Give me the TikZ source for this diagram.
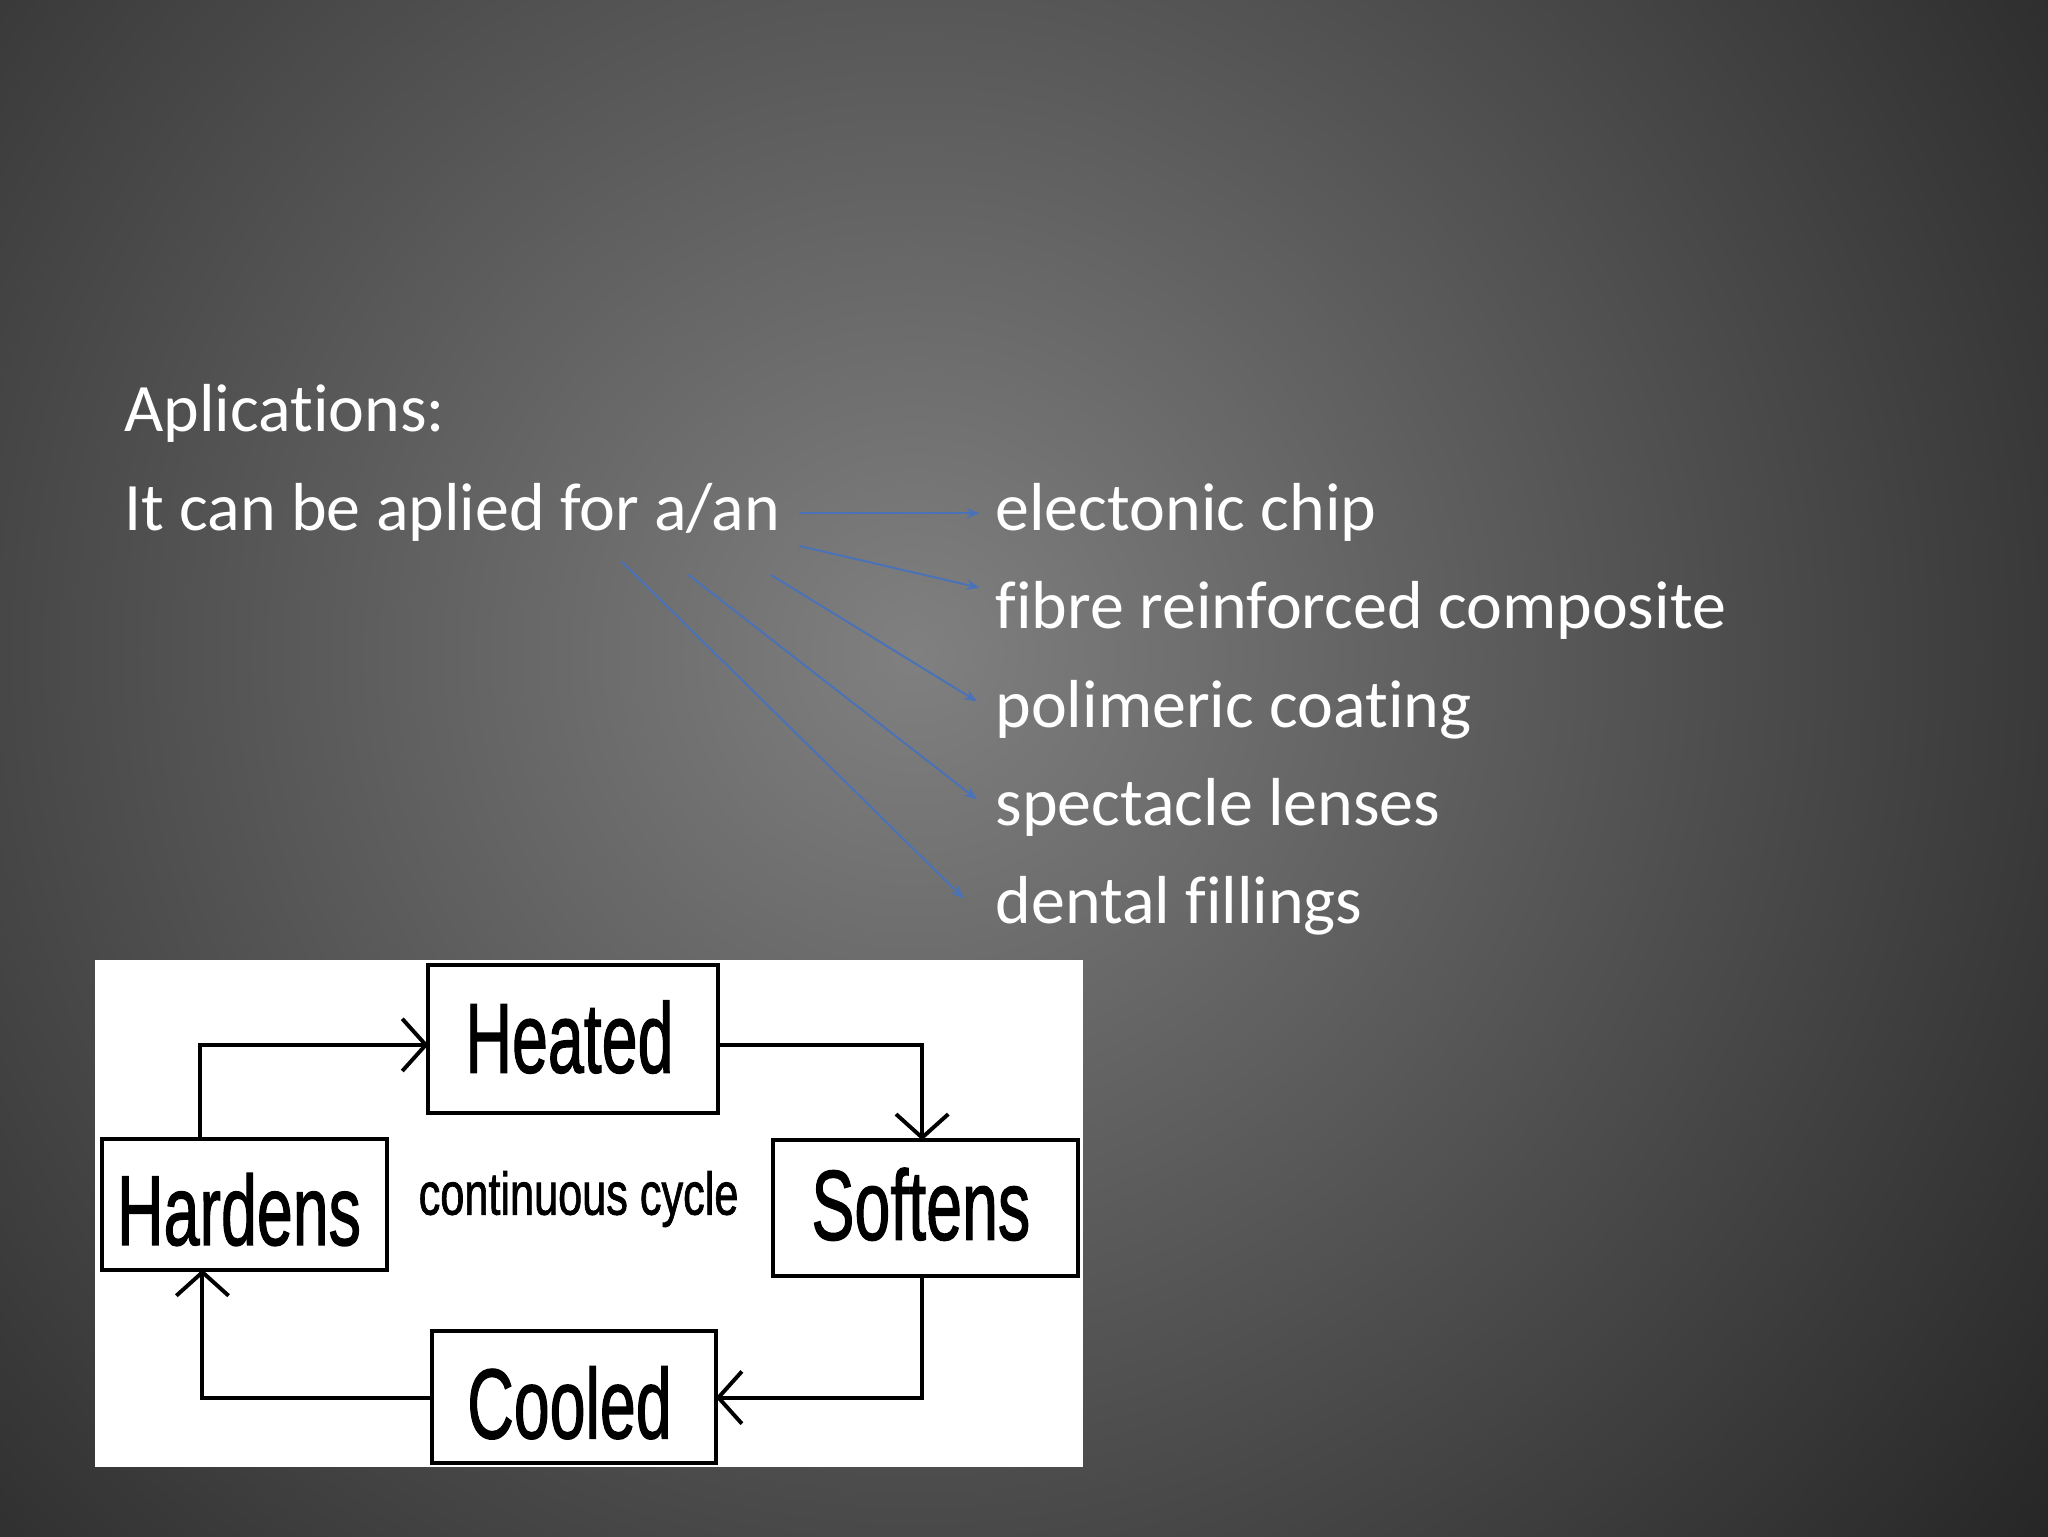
\documentclass[tikz,border=0pt]{standalone}
\usepackage{fontspec}
\setmainfont[Ligatures=NoCommon]{Carlito}
\newfontfamily\arialf[FakeBold=1.5]{Liberation Sans}
\usetikzlibrary{arrows.meta}
\definecolor{arrblue}{HTML}{4A72B8}
\definecolor{bgin}{HTML}{808080}
\definecolor{bgout}{HTML}{262626}
\begin{document}
\begin{tikzpicture}[x=1pt,y=-1pt,
  txt/.style={anchor=base west,text=white,font=\fontsize{52}{58}\selectfont,inner sep=0},
  appar/.style={arrblue,line width=1.5pt,-{Stealth[length=10pt,width=8pt]}},
  cbox/.style={draw=black,line width=3pt,fill=white,inner sep=0},
  clab/.style={font=\arialf\fontsize{76}{80}\selectfont,xscale=0.65,inner sep=0},
  cyc/.style={line width=3pt,-{Straight Barb[length=18pt,width=40pt,line width=3pt]}}]
\useasboundingbox (0,0) rectangle (1568,1176);
\shade[inner color=bgin, outer color=bgout, shading=radial] (-400,-600) rectangle (1800,1600);
\node[txt] (t1) at (95,330) {Aplications:};
\node[txt] (t2) at (95,406) {It can be aplied for a/an};
\node[txt] (a1) at (762,406) {electonic chip};
\node[txt] (a2) at (762,481) {fibre reinforced composite};
\node[txt] (a3) at (762,557) {polimeric coating};
\node[txt] (a4) at (762,632) {spectacle lenses};
\node[txt] (a5) at (762,707) {dental fillings};
\coordinate (s1) at (612,393); \coordinate (e1) at (750,393);
\coordinate (s2) at (612,418); \coordinate (e2) at (750,450);
\coordinate (s3) at (590,440); \coordinate (e3) at (748,537);
\coordinate (s4) at (527,440); \coordinate (e4) at (748,612);
\coordinate (s5) at (476,430); \coordinate (e5) at (738,688);
\foreach \i in {1,...,5} \draw[appar] (s\i) -- (e\i);
% cycle figure
\fill[white] (73,735) rectangle (829,1123);
\draw[cbox] (328,739) rectangle (550,852); \node[clab] (heated) at (436,794) {Heated};
\draw[cbox] (78,872) rectangle (296,972); \node[clab] (hardens) at (183,926) {Hardens};
\draw[cbox] (592,873) rectangle (825,977); \node[clab] (softens) at (705,922) {Softens};
\draw[cbox] (331,1019) rectangle (548,1120); \node[clab] (cooled) at (436,1074) {Cooled};
\node[font=\arialf\fontsize{46}{48}\selectfont,xscale=0.72] (cc) at (443,918) {continuous cycle};
\coordinate (p1) at (153,873); \coordinate (p2) at (328,800);
\coordinate (p3) at (551,800); \coordinate (p4) at (706,873);
\coordinate (p5) at (706,976); \coordinate (p6) at (548,1070);
\coordinate (p7) at (331,1070); \coordinate (p8) at (155,972);
\draw[cyc] (p1) |- (p2);
\draw[cyc] (p3) -| (p4);
\draw[cyc] (p5) |- (p6);
\draw[cyc] (p7) -| (p8);
\end{tikzpicture}
\end{document}
